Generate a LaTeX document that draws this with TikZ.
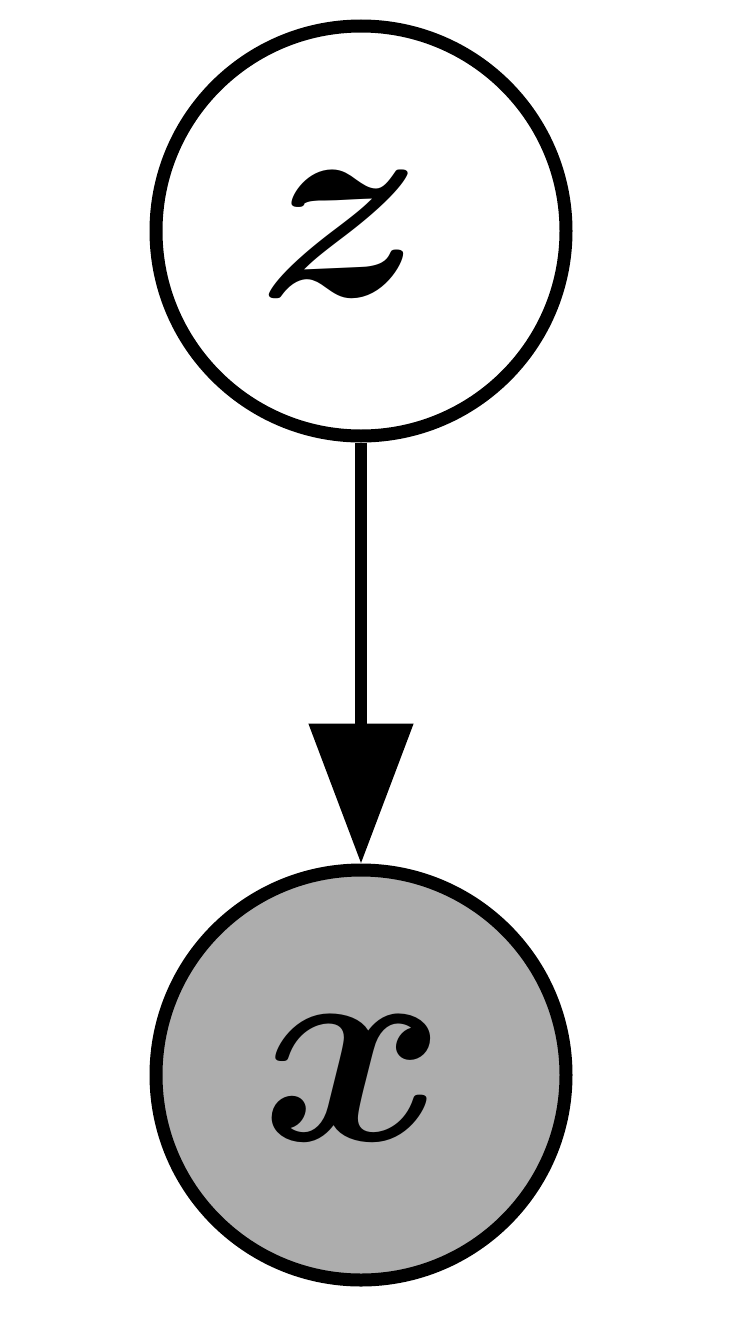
\documentclass[tikz,border=0pt]{standalone}
\usepackage{amsmath,amsbsy}
\usetikzlibrary{arrows.meta}
\definecolor{obsgray}{HTML}{ADADAD}
\begin{document}
\begin{tikzpicture}[x=0.5pt,y=-0.5pt,
  var/.style={circle,draw=black,line width=6.5pt,minimum size=205pt,inner sep=0pt},
  lbl/.style={scale=14},
  edge/.style={line width=6pt,-{Triangle[width=51pt,length=70pt]}}]
\useasboundingbox (0,0) rectangle (733,1333);
\node[var,fill=white] (z) at (361,231) {};
\node[lbl] (zl) at (341,234) {$\boldsymbol{z}$};
\node[var,fill=obsgray] (x) at (361,1075) {};
\node[lbl] (xl) at (354,1078) {$\boldsymbol{x}$};
\draw[edge] (z) -- (x);
\end{tikzpicture}
\end{document}
